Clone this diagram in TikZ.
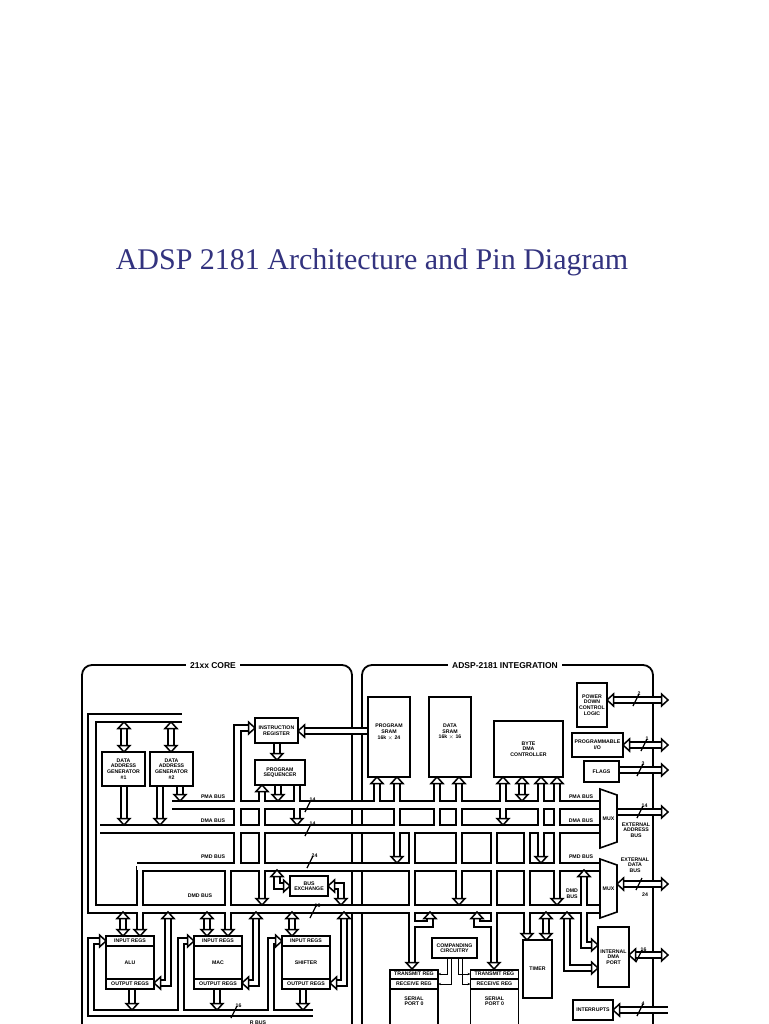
\documentclass[tikz,border=0pt]{standalone}
\usepackage{fontspec}
\setmainfont{Liberation Sans}
\newfontfamily\titlefont{Liberation Serif}
\usetikzlibrary{arrows.meta}
\definecolor{ttl}{HTML}{33337F}
\tikzset{
 busO/.style={line width=10pt,line join=miter},
 busI/.style={line width=6pt,white,line join=miter},
 pipeO/.style={line width=8.2pt,line join=miter},
 pipeI/.style={line width=4.4pt,white,line join=miter},
 blk/.style={draw,line width=1.6pt,fill=white,align=center,inner sep=0.5pt,font=\fontsize{5.2}{5.6}\selectfont\bfseries},
 lbl/.style={align=center,inner sep=0.5pt,font=\fontsize{5.2}{5.6}\selectfont\bfseries},
 frame/.style={line width=1.8pt,rounded corners=10pt},
 ftitle/.style={fill=white,inner xsep=4pt,font=\fontsize{8.5}{9}\selectfont\bfseries},
 hd/.style={draw,fill=white,line width=1.5pt,line join=miter}
}
\newcommand\hD[2]{\draw[hd] (#1-6,#2-6.5)--(#1,#2)--(#1+6,#2-6.5)--cycle;}
\newcommand\hU[2]{\draw[hd] (#1-6,#2+6.5)--(#1,#2)--(#1+6,#2+6.5)--cycle;}
\newcommand\hR[2]{\draw[hd] (#1-6.5,#2-6)--(#1,#2)--(#1-6.5,#2+6)--cycle;}
\newcommand\hL[2]{\draw[hd] (#1+6.5,#2-6)--(#1,#2)--(#1+6.5,#2+6)--cycle;}
\newcommand\slm[3]{\draw[line width=1.3pt] (#1-3,#2+6)--(#1+3,#2-6); \node[lbl,anchor=south west] at (#1+1,#2-4) {#3};}
\newcommand\regblock[3]{%
 \node[blk,minimum width=48pt,minimum height=53pt] (#1) at (#2,962.5) {#3};
 \draw[line width=1.6pt] (#2-24,946)--(#2+24,946) (#2-24,979)--(#2+24,979);
 \node[lbl] at (#2,941) {INPUT REGS};
 \node[lbl] at (#2,984) {OUTPUT REGS};}
\newcommand\sport[2]{%
 \node[blk,minimum width=48pt,minimum height=70pt,anchor=north] (#1) at (#2,969) {};
 \draw[line width=1.6pt] (#2-24,979)--(#2+24,979) (#2-24,989)--(#2+24,989);
 \node[lbl] at (#2,974) {TRANSMIT REG};
 \node[lbl] at (#2,984) {RECEIVE REG};
 \node[lbl] at (#2,1001) {SERIAL\\PORT 0};}
\def\buses{(172,804.5)--(600,804.5) (100,828.5)--(600,828.5) (137,866.5)--(600,866.5)
 (182,718)--(91.5,718)--(91.5,908.5)--(600,908.5)}
\def\pipes{
 (124,728)--(124,746) (171,728)--(171,746)
 (124,786)--(124,819) (160,786)--(160,819) (180,786)--(180,795)
 (237.5,866)--(237.5,728)--(249,728) (368,731)--(304,731)
 (277,743)--(277,754) (278,785)--(278,795) (297,785)--(297,819) (262,791)--(262,899)
 (140,866)--(140,930) (228,866)--(228,930)
 (123,918)--(123,930) (207,918)--(207,930) (292,918)--(292,930)
 (160,983)--(168,983)--(168,918) (248,983)--(256,983)--(256,918) (336,983)--(344,983)--(344,918)
 (277,876)--(277,886)--(284,886) (334,886)--(341,886)--(341,899)
 (132,989)--(132,1004) (217,989)--(217,1004) (303,989)--(303,1004)
 (100,941)--(91,941)--(91,1013)--(313,1013) (187,941)--(181,941)--(181,1013) (277,941)--(271,941)--(271,1013)
 (377,783)--(377,804) (397,783)--(397,857) (437,783)--(437,828) (459,783)--(459,899)
 (503,783)--(503,819) (522,783)--(522,795) (541,783)--(541,857) (557,783)--(557,899)
 (527,828)--(527,934) (546,918)--(546,934)
 (412,828)--(412,963) (412,924)--(430,924)--(430,918)
 (494,828)--(494,963) (494,924)--(477,924)--(477,918)
 (584,876)--(584,945)--(592,945) (567,918)--(567,968)--(592,968)
 (613,700)--(662,700) (629,745)--(662,745) (619,770)--(662,770) (617,812)--(662,812)
 (623,884)--(662,884) (635,955)--(662,955) (619,1010)--(668,1010)}
\begin{document}
\begin{tikzpicture}[x=1pt,y=-1pt]
\useasboundingbox (0,0) rectangle (768,1024);
\fill[white] (0,0) rectangle (768,1024);
\node[font=\titlefont\fontsize{30}{32}\selectfont,text=ttl] (title) at (372,262) {ADSP 2181 Architecture and Pin Diagram};
% frames
\draw[frame] (82,1040)--(82,665)--(352,665)--(352,1040);
\draw[frame] (362,1040)--(362,665)--(653,665)--(653,1040);
\node[ftitle] (coret) at (213,666) {21xx CORE};
\node[ftitle] (intt) at (505,666) {ADSP-2181 INTEGRATION};
% buses and pipes
\draw[busO] \buses;
\draw[pipeO] \pipes;
\draw[busI] \buses;
\draw[pipeI] \pipes;
% blocks core
\node[blk,minimum width=43pt,minimum height=34pt] (dag1) at (123.5,769) {DATA\\ADDRESS\\GENERATOR\\\#1};
\node[blk,minimum width=43pt,minimum height=34pt] (dag2) at (171.5,769) {DATA\\ADDRESS\\GENERATOR\\\#2};
\node[blk,minimum width=43pt,minimum height=25pt] (ir) at (276.5,730.5) {INSTRUCTION\\REGISTER};
\node[blk,minimum width=50pt,minimum height=25pt] (ps) at (280,772.5) {PROGRAM\\SEQUENCER};
\node[blk,minimum width=38pt,minimum height=20pt] (bx) at (309,886) {BUS\\EXCHANGE};
\regblock{alu}{130}{ALU}
\regblock{mac}{218}{MAC}
\regblock{shf}{306}{SHIFTER}
% blocks integration
\node[blk,minimum width=42pt,minimum height=80pt] (psram) at (389,737) {};
\node[lbl] at (389,732) {PROGRAM\\SRAM\\16k $\times$ 24};
\node[blk,minimum width=42pt,minimum height=80pt] (dsram) at (450,737) {};
\node[lbl] at (450,732) {DATA\\SRAM\\16k $\times$ 16};
\node[blk,minimum width=69pt,minimum height=56pt] (dma) at (528.5,749) {BYTE\\DMA\\CONTROLLER};
\node[blk,minimum width=30pt,minimum height=44pt] (pwr) at (592,705) {POWER\\DOWN\\CONTROL\\LOGIC};
\node[blk,minimum width=51pt,minimum height=24pt] (pio) at (597.5,745) {PROGRAMMABLE\\I/O};
\node[blk,minimum width=35pt,minimum height=21pt] (flg) at (601.5,771.5) {FLAGS};
\draw[line width=1.6pt,fill=white] (600,789)--(617,795)--(617,842)--(600,848)--cycle;
\node[lbl] (mux1) at (608.5,818.5) {MUX};
\draw[line width=1.6pt,fill=white] (600,859)--(617,865)--(617,912)--(600,918)--cycle;
\node[lbl] (mux2) at (608.5,888.5) {MUX};
\node[blk,minimum width=31pt,minimum height=60pt] (idma) at (613.5,957) {INTERNAL\\DMA\\PORT};
\node[blk,minimum width=29pt,minimum height=58pt] (tmr) at (537.5,969) {TIMER};
\node[blk,minimum width=45pt,minimum height=20pt] (cmp) at (454.5,948) {COMPANDING\\CIRCUITRY};
\node[blk,minimum width=40pt,minimum height=20pt] (irq) at (593,1010) {INTERRUPTS};
\sport{sp0}{414}
\sport{sp1}{494.5}
% companding links
\draw[line width=1pt,-{Stealth[length=3pt]}] (447,958)--(447,974)--(438,974);
\draw[line width=1pt,-{Stealth[length=3pt]}] (451,958)--(451,984)--(438,984);
\draw[line width=1pt,-{Stealth[length=3pt]}] (458,958)--(458,974)--(470.5,974);
\draw[line width=1pt,-{Stealth[length=3pt]}] (462,958)--(462,984)--(470.5,984);
% heads core
\hU{124}{722}\hD{124}{752}\hU{171}{722}\hD{171}{752}
\hD{124}{825}\hD{160}{825}\hD{180}{801}
\hR{255}{728}\hL{298}{731}
\hD{277}{760}\hD{278}{801}\hD{297}{825}\hU{262}{785}\hD{262}{905}
\hD{140}{936}\hD{228}{936}
\hU{123}{912}\hD{123}{936}\hU{207}{912}\hD{207}{936}\hU{292}{912}\hD{292}{936}
\hL{154}{983}\hU{168}{912}\hL{242}{983}\hU{256}{912}\hL{330}{983}\hU{344}{912}
\hU{277}{870}\hR{290}{886}\hL{328}{886}\hD{341}{905}
\hD{132}{1010}\hD{217}{1010}\hD{303}{1010}
\hR{106}{941}\hR{194}{941}\hR{282}{941}
% heads integration
\hU{377}{777}\hU{397}{777}\hD{397}{863}\hU{437}{777}\hU{459}{777}\hD{459}{905}
\hU{503}{777}\hD{503}{825}\hU{522}{777}\hD{522}{801}\hU{541}{777}\hD{541}{863}\hU{557}{777}\hD{557}{905}
\hD{527}{940}\hU{546}{912}\hD{546}{940}
\hD{412}{969}\hU{430}{912}\hD{494}{969}\hU{477}{912}
\hU{584}{870}\hR{598}{945}\hU{567}{912}\hR{598}{968}
\hL{607}{700}\hR{668}{700}\hL{623}{745}\hR{668}{745}\hR{668}{770}\hR{668}{812}
\hL{617}{884}\hR{668}{884}\hL{629}{955}\hR{668}{955}\hL{613}{1010}
% slashes
\slm{308}{806}{14}\slm{308}{830}{14}\slm{310}{862}{24}\slm{313}{912}{16}\slm{234}{1012}{16}
\slm{636}{700}{2}\slm{644}{745}{1}\slm{640}{770}{3}\slm{640}{812}{14}\slm{639}{956}{16}\slm{640}{1010}{4}
\draw[line width=1.3pt] (636,890)--(642,878); \node[lbl] at (645,895) {24};
% labels
\node[lbl] at (213,797) {PMA BUS};
\node[lbl] at (213,821) {DMA BUS};
\node[lbl] at (213,857) {PMD BUS};
\node[lbl] at (200,896) {DMD BUS};
\node[lbl] at (581,797) {PMA BUS};
\node[lbl] at (581,821) {DMA BUS};
\node[lbl] at (581,857) {PMD BUS};
\node[lbl] at (572,894) {DMD\\BUS};
\node[lbl] at (636,830) {EXTERNAL\\ADDRESS\\BUS};
\node[lbl] at (635,865) {EXTERNAL\\DATA\\BUS};
\node[lbl] at (258,1023) {R BUS};
\end{tikzpicture}
\end{document}
